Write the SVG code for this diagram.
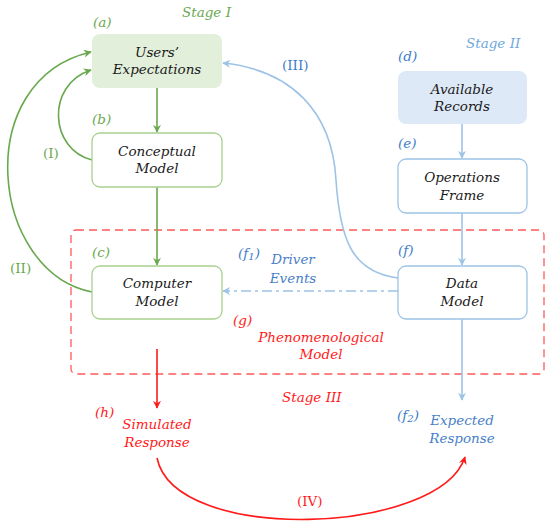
<svg xmlns="http://www.w3.org/2000/svg" width="550" height="525" viewBox="0 0 550 525">
<defs>
<style>
text{font-family:"DejaVu Serif","Liberation Serif",serif;font-style:italic;font-size:13.5px}
.c{text-anchor:middle;fill:#1a1a1a}
.g{fill:#6aa84f}
.b{fill:#4a7fc8}
.bl{fill:#3d7cc9}
.sb{fill:#6fa8dc}
.r{fill:#ff1a1a}
.up{font-style:normal;font-size:13.5px}
.gl{stroke:#6aa84f;stroke-width:1.6;fill:none}
.bln{stroke:#9dc3e6;stroke-width:1.6;fill:none}
.rl{stroke:#ff1a1a;stroke-width:1.6;fill:none}
</style>
<marker id="mg" viewBox="0 0 10 10" refX="9" refY="5" markerWidth="8" markerHeight="8" orient="auto" markerUnits="userSpaceOnUse"><path d="M0,0 L10,5 L0,10 L3,5 z" fill="#6aa84f"/></marker>
<marker id="mb" viewBox="0 0 10 10" refX="9" refY="5" markerWidth="8" markerHeight="8" orient="auto" markerUnits="userSpaceOnUse"><path d="M0,0 L10,5 L0,10 L3,5 z" fill="#9dc3e6"/></marker>
<marker id="mr" viewBox="0 0 10 10" refX="9" refY="5" markerWidth="8" markerHeight="8" orient="auto" markerUnits="userSpaceOnUse"><path d="M0,0 L10,5 L0,10 L3,5 z" fill="#ff1a1a"/></marker>
</defs>
<rect width="550" height="525" fill="#fff"/>

<rect x="71" y="230" width="473" height="144" rx="5" fill="none" stroke="#ff5a5a" stroke-width="1.3" stroke-dasharray="8,5"/>

<g id="connectors">
<path class="gl" d="M157,88 L157,132" marker-end="url(#mg)"/>
<path class="gl" d="M157,187 L157,265" marker-end="url(#mg)"/>
<path class="gl" d="M92,160 C50,150 45,85 91,70" marker-end="url(#mg)"/>
<path class="gl" d="M92,292 C-10,272 -30,80 91,52" marker-end="url(#mg)"/>
<path class="bln" d="M462,124 L462,158" marker-end="url(#mb)"/>
<path class="bln" d="M462,213 L462,265" marker-end="url(#mb)"/>
<path class="bln" d="M462,319 L462,400" marker-end="url(#mb)"/>
<path class="bln" d="M398,278 C352,272 340,240 336,180 C332,110 290,70 223,63" marker-end="url(#mb)"/>
<path class="bln" d="M398,291 L223,291" stroke-dasharray="10,4,3,4" marker-end="url(#mb)"/>
<path class="rl" d="M157,349 L157,408" marker-end="url(#mr)"/>
<path class="rl" d="M157,458 C175,545 440,535 465,457" marker-end="url(#mr)"/>
</g>

<g id="a">
<rect x="92" y="34" width="130" height="54" rx="8" fill="#e2efda"/>
<text class="c" x="157" y="57">Users’</text>
<text class="c" x="157" y="74">Expectations</text>
<text class="g" x="93" y="27">(a)</text>
</g>
<g id="b">
<rect x="92" y="133" width="130" height="54" rx="8" fill="#fff" stroke="#a9d18e" stroke-width="1.3"/>
<text class="c" x="157" y="156">Conceptual</text>
<text class="c" x="157" y="173">Model</text>
<text class="g" x="92" y="124">(b)</text>
</g>
<g id="c">
<rect x="92" y="266" width="130" height="53" rx="8" fill="#fff" stroke="#a9d18e" stroke-width="1.3"/>
<text class="c" x="157" y="288">Computer</text>
<text class="c" x="157" y="306">Model</text>
<text class="g" x="92" y="257">(c)</text>
</g>
<g id="d">
<rect x="398" y="71" width="129" height="53" rx="8" fill="#dde9f6"/>
<text class="c" x="462" y="94">Available</text>
<text class="c" x="462" y="111">Records</text>
<text class="bl" x="398" y="61">(d)</text>
</g>
<g id="e">
<rect x="398" y="159" width="129" height="54" rx="8" fill="#fff" stroke="#9dc3e6" stroke-width="1.3"/>
<text class="c" x="462" y="182">Operations</text>
<text class="c" x="462" y="200">Frame</text>
<text class="bl" x="398" y="148">(e)</text>
</g>
<g id="f">
<rect x="398" y="266" width="129" height="53" rx="8" fill="#fff" stroke="#9dc3e6" stroke-width="1.3"/>
<text class="c" x="462" y="288">Data</text>
<text class="c" x="462" y="306">Model</text>
<text class="bl" x="398" y="255">(f)</text>
</g>

<g id="labels">
<text class="g" x="182" y="17">Stage I</text>
<text class="sb" x="466" y="48">Stage II</text>
<text class="r" x="282" y="402">Stage III</text>
<text class="g up" x="43" y="158">(I)</text>
<text class="g up" x="10" y="273">(II)</text>
<text class="bl up" x="282" y="70">(III)</text>
<text class="r up" x="297" y="506">(IV)</text>
<text class="bl" x="238" y="258">(<tspan>f</tspan><tspan font-size="10" dy="2">1</tspan><tspan dy="-2">)</tspan></text>
<text class="b" x="293" y="264" text-anchor="middle">Driver</text>
<text class="b" x="293" y="283" text-anchor="middle">Events</text>
<text class="r" x="233" y="325">(g)</text>
<text class="r" x="321" y="342" text-anchor="middle">Phenomenological</text>
<text class="r" x="321" y="359" text-anchor="middle">Model</text>
<text class="r" x="95" y="417">(h)</text>
<text class="r" x="157" y="429" text-anchor="middle">Simulated</text>
<text class="r" x="157" y="447" text-anchor="middle">Response</text>
<text class="bl" x="397" y="420">(<tspan>f</tspan><tspan font-size="10" dy="2">2</tspan><tspan dy="-2">)</tspan></text>
<text class="b" x="462" y="425" text-anchor="middle">Expected</text>
<text class="b" x="462" y="443" text-anchor="middle">Response</text>
</g>
</svg>
